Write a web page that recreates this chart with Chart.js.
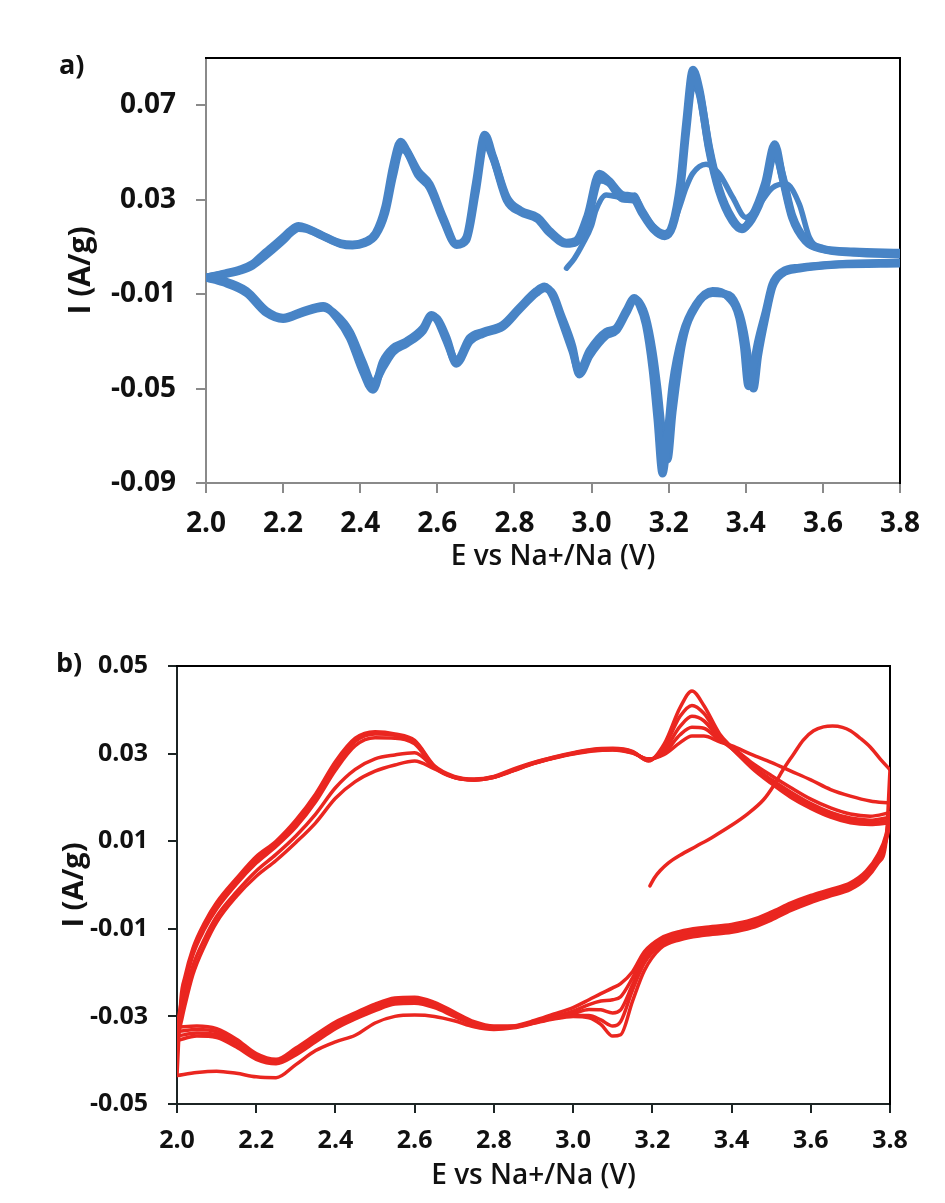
<!DOCTYPE html>
<html><head><meta charset="utf-8">
<script src="https://cdn.jsdelivr.net/npm/chart.js@4.4.0/dist/chart.umd.min.js"></script>
<style>
html,body{margin:0;padding:0;background:#fff;}
#wrap{position:relative;width:945px;height:1203px;overflow:hidden;background:#fff;}
canvas{position:absolute;left:0;}
#ca{top:0}
#cb{top:600px}
.lab{position:absolute;font-family:"Open Sans";font-weight:700;font-size:27px;line-height:27px;color:#111;}
</style></head><body>
<div id="wrap">
<canvas id="ca" width="945" height="600"></canvas>
<canvas id="cb" width="945" height="603"></canvas>
<div class="lab" style="left:59px;top:50px">a)</div>
<div class="lab" style="left:56px;top:648px">b)</div>
</div>
<script>
// ---------- tick labels ----------
const xTicks = [2.0, 2.2, 2.4, 2.6, 2.8, 3.0, 3.2, 3.4, 3.6, 3.8];
const yTicksA = [-0.09, -0.05, -0.01, 0.03, 0.07];
const yTicksB = [-0.05, -0.03, -0.01, 0.01, 0.03, 0.05];

// ---------- panel a : anodic branches ----------
const E_a_up = [2.00,2.05,2.09,2.12,2.15,2.17,2.20,2.22,2.24,2.26,2.30,2.35,2.38,2.41,2.44,2.465,2.485,2.505,2.52,2.55,2.58,2.615,2.65,2.675,2.70,2.723,2.745,2.78,2.815,2.86,2.89,2.935,2.96,2.99,3.02,3.045,3.08,3.11,3.13,3.16,3.19,3.21,3.23,3.245,3.263,3.28,3.305,3.33,3.365,3.39,3.415,3.45,3.475,3.495,3.52,3.555,3.60,3.68,3.80];
const I_a_up1 = [-0.003,-0.0012,0.0005,0.0027,0.007,0.0097,0.014,0.017,0.0188,0.018,0.015,0.0115,0.011,0.012,0.0158,0.027,0.044,0.0545,0.051,0.042,0.0365,0.0225,0.0113,0.014,0.037,0.0575,0.048,0.031,0.0255,0.0225,0.017,0.0118,0.0126,0.0235,0.041,0.038,0.032,0.031,0.0255,0.018,0.0148,0.0195,0.037,0.062,0.085,0.0765,0.051,0.034,0.021,0.0175,0.0225,0.037,0.0535,0.0395,0.0225,0.0125,0.009,0.0075,0.0068];
const I_a_up2 = [-0.003,-0.0015,0.0000,0.0020,0.0058,0.0085,0.0128,0.0160,0.0180,0.0176,0.0148,0.0112,0.0106,0.0115,0.0150,0.0245,0.040,0.0515,0.0505,0.0405,0.0352,0.0215,0.0108,0.0128,0.0335,0.0545,0.0475,0.0298,0.0248,0.0218,0.0162,0.0113,0.0120,0.0215,0.0385,0.0372,0.0305,0.0300,0.0245,0.0175,0.0145,0.0185,0.0340,0.0580,0.0800,0.0750,0.0520,0.0350,0.0220,0.0180,0.0215,0.0345,0.0505,0.0400,0.0235,0.0130,0.0092,0.0080,0.0075];
// first (partial) scan of panel a
const E_a_first = [2.935,2.955,2.977,3.0,3.011,3.038,3.07,3.09,3.111,3.13,3.16,3.19,3.21,3.228,3.245,3.262,3.297,3.331,3.366,3.40,3.435,3.469,3.504,3.539,3.565,3.591,3.65,3.72,3.8];
const I_a_first = [0.0010,0.0050,0.0112,0.0190,0.0254,0.0320,0.0310,0.0300,0.0320,0.0260,0.0190,0.0160,0.0190,0.0268,0.0350,0.0410,0.0450,0.0410,0.0310,0.0225,0.0280,0.0350,0.0367,0.0280,0.0140,0.0096,0.0080,0.0075,0.0072];
// ---------- panel a : cathodic branches ----------
const E_a_dn = [2.00,2.045,2.105,2.157,2.20,2.252,2.304,2.339,2.373,2.407,2.433,2.459,2.485,2.52,2.563,2.585,2.60,2.624,2.649,2.684,2.718,2.77,2.813,2.857,2.878,2.90,2.92,2.95,2.968,2.995,3.038,3.064,3.09,3.111,3.124,3.141,3.158,3.171,3.184,3.197,3.21,3.236,3.271,3.314,3.357,3.383,3.395,3.407,3.42,3.432,3.452,3.469,3.495,3.539,3.642,3.80];
const I_a_dn1 = [-0.003,-0.0044,-0.0087,-0.0172,-0.0200,-0.0172,-0.0150,-0.0200,-0.0286,-0.0428,-0.0505,-0.0385,-0.0329,-0.0300,-0.0244,-0.0188,-0.0210,-0.0300,-0.0385,-0.0286,-0.0260,-0.0230,-0.0158,-0.0087,-0.0068,-0.0110,-0.0200,-0.0340,-0.0425,-0.0340,-0.0260,-0.0244,-0.0170,-0.0116,-0.0144,-0.0230,-0.0415,-0.0630,-0.0860,-0.0700,-0.0485,-0.0272,-0.0144,-0.0087,-0.0116,-0.0200,-0.0320,-0.0490,-0.0400,-0.0300,-0.0172,-0.0059,-0.0005,0.0012,0.0027,0.0034];
const I_a_dn2 = [-0.003,-0.0050,-0.0095,-0.0180,-0.0205,-0.0178,-0.0158,-0.0190,-0.0260,-0.0390,-0.0480,-0.0410,-0.0345,-0.0310,-0.0255,-0.0195,-0.0205,-0.0285,-0.0395,-0.0300,-0.0268,-0.0238,-0.0165,-0.0095,-0.0075,-0.0100,-0.0185,-0.0320,-0.0440,-0.0360,-0.0275,-0.0255,-0.0180,-0.0122,-0.0135,-0.0200,-0.0340,-0.0500,-0.0700,-0.0800,-0.0600,-0.0300,-0.0150,-0.0095,-0.0105,-0.0180,-0.0260,-0.0380,-0.0500,-0.0360,-0.0190,-0.0070,-0.0012,0.0008,0.0025,0.0030];

// ---------- panel b : anodic branches ----------
const E_b_up = [2.0,2.01,2.02,2.04,2.07,2.1,2.15,2.2,2.25,2.3,2.35,2.4,2.45,2.5,2.55,2.6,2.65,2.7,2.75,2.8,2.85,2.9,2.95,3.0,3.05,3.1,3.15,3.19,3.23,3.27,3.3,3.33,3.37,3.4,3.45,3.5,3.55,3.6,3.65,3.7,3.75,3.8];
const I_b_up1 = [-0.0435,-0.026,-0.021,-0.0145,-0.0085,-0.004,0.0015,0.0065,0.0100,0.0148,0.0208,0.0282,0.0335,0.0350,0.0345,0.0330,0.0272,0.0248,0.0242,0.0248,0.0265,0.0280,0.0292,0.0302,0.0310,0.0312,0.0305,0.0283,0.0322,0.0405,0.0443,0.0410,0.0345,0.0315,0.0268,0.0232,0.0200,0.0175,0.0155,0.0142,0.0138,0.0142];
const I_b_up2 = [-0.0325,-0.027,-0.022,-0.0155,-0.0095,-0.005,0.0008,0.0058,0.0094,0.0140,0.0200,0.0272,0.0328,0.0345,0.0342,0.0328,0.0270,0.0246,0.0241,0.0247,0.0263,0.0279,0.0291,0.0301,0.0309,0.0311,0.0304,0.0284,0.0315,0.0385,0.0410,0.0392,0.0338,0.0312,0.0270,0.0236,0.0205,0.0180,0.0160,0.0147,0.0142,0.0148];
const I_b_up3 = [-0.0335,-0.028,-0.023,-0.016,-0.0100,-0.0055,0.0002,0.0050,0.0088,0.0132,0.0190,0.0262,0.0318,0.0336,0.0335,0.0322,0.0268,0.0245,0.0240,0.0246,0.0262,0.0278,0.0290,0.0300,0.0308,0.0310,0.0303,0.0286,0.0308,0.0362,0.0385,0.0375,0.0333,0.0312,0.0273,0.0241,0.0212,0.0186,0.0166,0.0153,0.0148,0.0155];
const I_b_up4 = [-0.0345,-0.030,-0.0255,-0.0185,-0.0122,-0.0072,-0.0016,0.0032,0.0070,0.0112,0.0162,0.0222,0.0264,0.0288,0.0297,0.0302,0.0268,0.0246,0.0240,0.0246,0.0262,0.0278,0.0290,0.0300,0.0307,0.0309,0.0302,0.0287,0.0302,0.0343,0.0360,0.0358,0.0330,0.0315,0.0280,0.0250,0.0222,0.0196,0.0176,0.0162,0.0157,0.0165];
const I_b_up5 = [-0.0355,-0.0315,-0.0275,-0.0205,-0.0138,-0.0085,-0.0026,0.0020,0.0056,0.0097,0.0142,0.0198,0.0236,0.0260,0.0274,0.0283,0.0265,0.0246,0.0240,0.0246,0.0261,0.0277,0.0289,0.0299,0.0306,0.0308,0.0301,0.0288,0.0298,0.0325,0.0340,0.0340,0.0327,0.0318,0.0298,0.0280,0.0260,0.0240,0.0218,0.0203,0.0192,0.0187];
// first (partial) scan of panel b
const E_b_first = [3.194,3.205,3.22,3.24,3.27,3.312,3.355,3.396,3.44,3.48,3.505,3.53,3.556,3.581,3.607,3.632,3.655,3.68,3.7,3.725,3.75,3.775,3.8];
const I_b_first = [-0.0002,0.0016,0.0033,0.0050,0.0068,0.0089,0.0111,0.0134,0.0162,0.0194,0.0225,0.0263,0.0298,0.0331,0.0352,0.0361,0.0363,0.0360,0.0352,0.0335,0.0315,0.0288,0.0263];
// ---------- panel b : cathodic branches ----------
const E_b_dn = [2.0,2.05,2.1,2.15,2.2,2.25,2.3,2.35,2.4,2.45,2.5,2.55,2.6,2.65,2.7,2.75,2.8,2.85,2.9,2.95,3.0,3.04,3.07,3.1,3.12,3.15,3.18,3.22,3.27,3.33,3.4,3.45,3.5,3.55,3.6,3.65,3.7,3.74,3.77,3.79,3.8];
const I_b_dn1 = [-0.0435,-0.0428,-0.0425,-0.0430,-0.0438,-0.0440,-0.0410,-0.0378,-0.0358,-0.0343,-0.0315,-0.0300,-0.0297,-0.0300,-0.0310,-0.0324,-0.0330,-0.0326,-0.0316,-0.0306,-0.0300,-0.0303,-0.0318,-0.0345,-0.0342,-0.0265,-0.0195,-0.0145,-0.0125,-0.0115,-0.0108,-0.0098,-0.0080,-0.0058,-0.0040,-0.0025,-0.0010,0.0015,0.0050,0.0100,0.0263];
const I_b_dn2 = [-0.0325,-0.0322,-0.0328,-0.0352,-0.0385,-0.0398,-0.0372,-0.0342,-0.0313,-0.0292,-0.0272,-0.0258,-0.0256,-0.0268,-0.0290,-0.0312,-0.0322,-0.0322,-0.0314,-0.0305,-0.0298,-0.0298,-0.0308,-0.0322,-0.0312,-0.0240,-0.0178,-0.0138,-0.0120,-0.0112,-0.0105,-0.0095,-0.0077,-0.0055,-0.0038,-0.0023,-0.0008,0.0018,0.0055,0.0100,0.0142];
const I_b_dn3 = [-0.0335,-0.0330,-0.0335,-0.0360,-0.0392,-0.0402,-0.0378,-0.0348,-0.0318,-0.0297,-0.0277,-0.0262,-0.0260,-0.0272,-0.0294,-0.0315,-0.0325,-0.0324,-0.0315,-0.0304,-0.0294,-0.0284,-0.0285,-0.0292,-0.0285,-0.0228,-0.0170,-0.0133,-0.0115,-0.0106,-0.0100,-0.0090,-0.0072,-0.0050,-0.0033,-0.0018,-0.0004,0.0022,0.0060,0.0105,0.0148];
const I_b_dn4 = [-0.0345,-0.0338,-0.0342,-0.0366,-0.0396,-0.0405,-0.0383,-0.0353,-0.0323,-0.0302,-0.0282,-0.0267,-0.0265,-0.0276,-0.0297,-0.0317,-0.0326,-0.0324,-0.0314,-0.0301,-0.0288,-0.0273,-0.0265,-0.0262,-0.0255,-0.0212,-0.0160,-0.0127,-0.0110,-0.0101,-0.0095,-0.0085,-0.0066,-0.0045,-0.0028,-0.0013,0.0001,0.0027,0.0065,0.0110,0.0155];
const I_b_dn5 = [-0.0355,-0.0345,-0.0348,-0.0370,-0.0398,-0.0408,-0.0388,-0.0358,-0.0328,-0.0306,-0.0287,-0.0272,-0.0270,-0.0280,-0.0300,-0.0318,-0.0326,-0.0322,-0.0310,-0.0295,-0.0280,-0.0262,-0.0248,-0.0235,-0.0225,-0.0198,-0.0152,-0.0122,-0.0106,-0.0097,-0.0090,-0.0080,-0.0062,-0.0041,-0.0024,-0.0010,0.0005,0.0032,0.0070,0.0115,0.0165];

// ---------- styling ----------
const BLUE = '#4884C6';
const RED = '#EA2620';
const FONT = "'Open Sans', 'DejaVu Sans', sans-serif";

function pts(E, I) { return E.map((e, i) => ({x: e, y: I[i]})); }
function line(E, I, color, w) {
  return {data: pts(E, I), showLine: true, borderColor: color, backgroundColor: color,
    borderWidth: w, pointRadius: 0, pointHoverRadius: 0, fill: false,
    cubicInterpolationMode: 'monotone', borderJoinStyle: 'round', borderCapStyle: 'round'};
}

function makeScales(o) {
  return {
    x: {type: 'linear', position: 'bottom', min: 2.0, max: 3.8,
      afterBuildTicks: s => { s.ticks = xTicks.map(v => ({value: v})); },
      afterFit: s => { s.height = o.xH; },
      grid: {display: true, drawOnChartArea: false, drawTicks: true, tickLength: o.tl, color: o.axisColor, lineWidth: 2},
      border: {display: true, color: o.axisColor, width: 2},
      ticks: {padding: o.xPad, autoSkip: false, maxRotation: 0, color: '#111',
        font: {family: FONT, size: o.tickSize, weight: 'bold'}, callback: v => Number(v).toFixed(1)},
      title: {display: true, text: 'E vs Na+/Na (V)', color: '#111',
        font: {family: FONT, size: o.titleSize, weight: '600'}, padding: {top: 0, bottom: o.xTitlePad}}
    },
    y: {type: 'linear', position: 'left', min: o.ymin, max: o.ymax,
      afterBuildTicks: s => { s.ticks = o.yTicks.map(v => ({value: v})); },
      afterFit: s => { s.width = o.yW; },
      grid: {display: true, drawOnChartArea: false, drawTicks: true, tickLength: o.tl, color: o.axisColor, lineWidth: 2},
      border: {display: true, color: o.axisColor, width: 2},
      ticks: {padding: o.yPad, autoSkip: false, color: '#111',
        font: {family: FONT, size: o.tickSize, weight: 'bold'}, callback: v => Number(v).toFixed(2)},
      title: {display: true, text: 'I (A/g)', color: '#111',
        font: {family: FONT, size: o.yTitleSize, weight: 'bold'}, padding: {top: o.yTitlePad, bottom: 0}}
    },
    x2: {type: 'linear', position: 'top', min: 2.0, max: 3.8,
      grid: {display: false, drawTicks: false}, ticks: {display: false},
      border: {display: true, color: '#000', width: 2}, afterFit: s => { s.height = 0; }},
    y2: {type: 'linear', position: 'right', min: o.ymin, max: o.ymax,
      grid: {display: false, drawTicks: false}, ticks: {display: false},
      border: {display: true, color: '#000', width: 2}, afterFit: s => { s.width = 0; }}
  };
}

function build() {
  Chart.defaults.font.family = FONT;
  new Chart(document.getElementById('ca'), {
    type: 'scatter',
    data: {datasets: [
      line(E_a_up, I_a_up1, BLUE, 8),
      line(E_a_up, I_a_up2, BLUE, 8),
      line(E_a_dn, I_a_dn1, BLUE, 8),
      line(E_a_dn, I_a_dn2, BLUE, 8),
      line(E_a_first, I_a_first, BLUE, 5.5)
    ]},
    options: {
      responsive: false, animation: false, devicePixelRatio: 1, events: [],
      layout: {padding: {top: 58, right: 45, bottom: 0, left: 0}},
      plugins: {legend: {display: false}, tooltip: {enabled: false}},
      scales: makeScales({xH: 117, yW: 206, tl: 10, xPad: 14, yPad: 20, tickSize: 28, titleSize: 28,
        xTitlePad: 26, yTitleSize: 30, yTitlePad: 63, ymin: -0.09, ymax: 0.09, yTicks: yTicksA, axisColor: '#8a8a8a'})
    }
  });
  new Chart(document.getElementById('cb'), {
    type: 'scatter',
    data: {datasets: [
      line(E_b_first, I_b_first, RED, 3.5),
      line(E_b_dn, I_b_dn1, RED, 3.5),
      line(E_b_up, I_b_up1, RED, 3.5),
      line(E_b_dn, I_b_dn2, RED, 3.5),
      line(E_b_up, I_b_up2, RED, 3.5),
      line(E_b_dn, I_b_dn3, RED, 3.5),
      line(E_b_up, I_b_up3, RED, 3.5),
      line(E_b_dn, I_b_dn4, RED, 3.5),
      line(E_b_up, I_b_up4, RED, 3.5),
      line(E_b_dn, I_b_dn5, RED, 3.5),
      line(E_b_up, I_b_up5, RED, 3.5)
    ]},
    options: {
      responsive: false, animation: false, devicePixelRatio: 1, events: [],
      layout: {padding: {top: 66, right: 55, bottom: 0, left: 0}},
      plugins: {legend: {display: false}, tooltip: {enabled: false}},
      scales: makeScales({xH: 99, yW: 177, tl: 9, xPad: 13, yPad: 20, tickSize: 25, titleSize: 28,
        xTitlePad: 10, yTitleSize: 29, yTitlePad: 57, ymin: -0.05, ymax: 0.05, yTicks: yTicksB, axisColor: '#1c2424'})
    }
  });
}
const fontLoads = ['700 27px "Open Sans"', '600 26px "Open Sans"'].map(f => document.fonts.load(f).catch(() => null));
Promise.all(fontLoads).then(build, build);
</script>
</body></html>
